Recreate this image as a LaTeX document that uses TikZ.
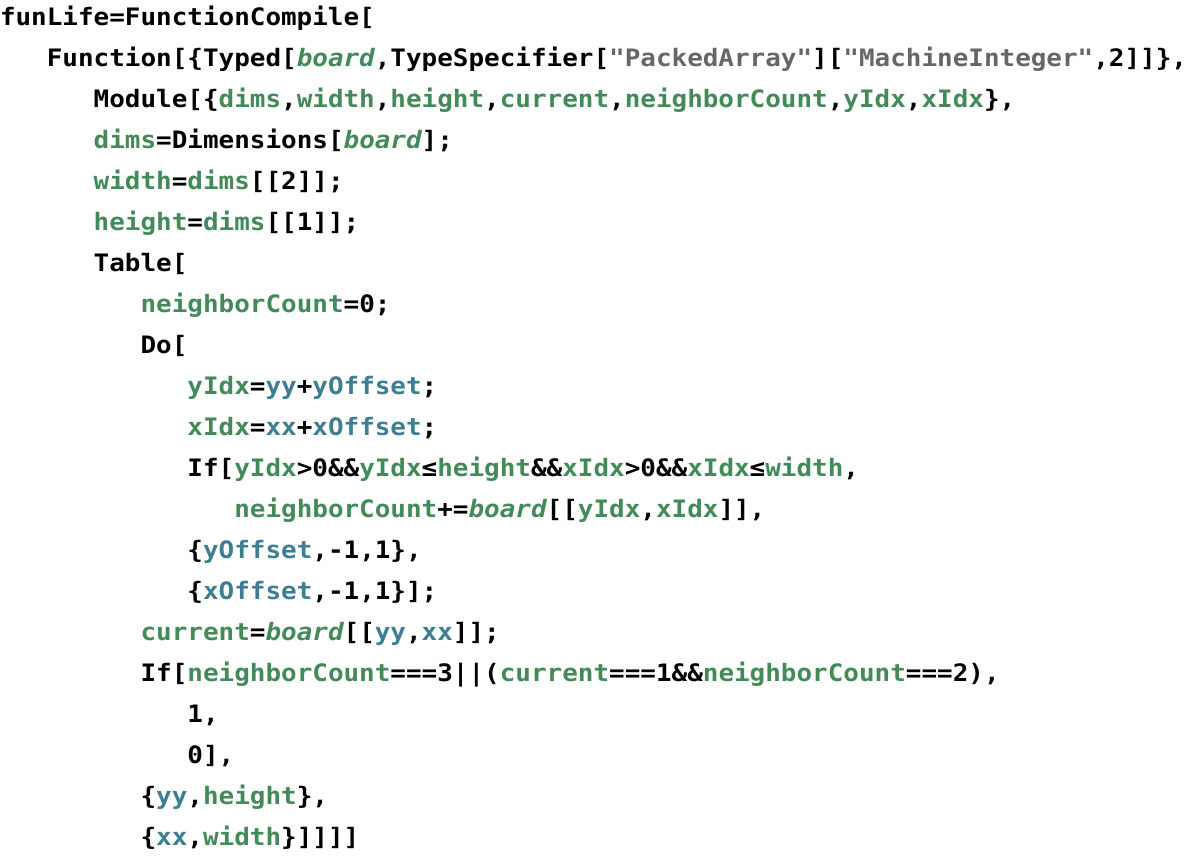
\documentclass[tikz,border=0pt]{standalone}
\usepackage{fontspec}
\setmonofont{DejaVu Sans Mono}[FakeStretch=1.081]
\definecolor{vgreen}{HTML}{438A59}
\definecolor{vteal}{HTML}{3D7E93}
\definecolor{vgray}{HTML}{666666}
\newcommand\lvar[1]{\textcolor{vgreen}{#1}}
\newcommand\ivar[1]{\textcolor{vteal}{#1}}
\newcommand\pvar[1]{\textcolor{vgreen}{\itshape #1}}
\newcommand\strg[1]{\textcolor{vgray}{#1}}
\begin{document}
\begin{tikzpicture}[x=1pt,y=1pt,
  code/.style={anchor=base west,inner sep=0pt,outer sep=0pt,
    font=\fontsize{24}{28}\selectfont\ttfamily\bfseries,text=black}]
\useasboundingbox (0,0) rectangle (1198,-856);
\def\pitch{15.62}
\def\ln#1{-26-40.95*#1}
\node[code] (l0) at (0,{\ln{0}}) {funLife=FunctionCompile[};
\node[code] (l1) at ({3*\pitch},{\ln{1}}) {Function[\{Typed[\pvar{board},TypeSpecifier[\strg{"PackedArray"}][\strg{"MachineInteger"},2]]\},};
\node[code] (l2) at ({6*\pitch},{\ln{2}}) {Module[\{\lvar{dims},\lvar{width},\lvar{height},\lvar{current},\lvar{neighborCount},\lvar{yIdx},\lvar{xIdx}\},};
\node[code] (l3) at ({6*\pitch},{\ln{3}}) {\lvar{dims}=Dimensions[\pvar{board}];};
\node[code] (l4) at ({6*\pitch},{\ln{4}}) {\lvar{width}=\lvar{dims}[[2]];};
\node[code] (l5) at ({6*\pitch},{\ln{5}}) {\lvar{height}=\lvar{dims}[[1]];};
\node[code] (l6) at ({6*\pitch},{\ln{6}}) {Table[};
\node[code] (l7) at ({9*\pitch},{\ln{7}}) {\lvar{neighborCount}=0;};
\node[code] (l8) at ({9*\pitch},{\ln{8}}) {Do[};
\node[code] (l9) at ({12*\pitch},{\ln{9}}) {\lvar{yIdx}=\ivar{yy}+\ivar{yOffset};};
\node[code] (l10) at ({12*\pitch},{\ln{10}}) {\lvar{xIdx}=\ivar{xx}+\ivar{xOffset};};
\node[code] (l11) at ({12*\pitch},{\ln{11}}) {If[\lvar{yIdx}>0\&\&\lvar{yIdx}≤\lvar{height}\&\&\lvar{xIdx}>0\&\&\lvar{xIdx}≤\lvar{width},};
\node[code] (l12) at ({15*\pitch},{\ln{12}}) {\lvar{neighborCount}+=\pvar{board}[[\lvar{yIdx},\lvar{xIdx}]],};
\node[code] (l13) at ({12*\pitch},{\ln{13}}) {\{\ivar{yOffset},-1,1\},};
\node[code] (l14) at ({12*\pitch},{\ln{14}}) {\{\ivar{xOffset},-1,1\}];};
\node[code] (l15) at ({9*\pitch},{\ln{15}}) {\lvar{current}=\pvar{board}[[\ivar{yy},\ivar{xx}]];};
\node[code] (l16) at ({9*\pitch},{\ln{16}}) {If[\lvar{neighborCount}===3||(\lvar{current}===1\&\&\lvar{neighborCount}===2),};
\node[code] (l17) at ({12*\pitch},{\ln{17}}) {1,};
\node[code] (l18) at ({12*\pitch},{\ln{18}}) {0],};
\node[code] (l19) at ({9*\pitch},{\ln{19}}) {\{\ivar{yy},\lvar{height}\},};
\node[code] (l20) at ({9*\pitch},{\ln{20}}) {\{\ivar{xx},\lvar{width}\}]]]]};
\end{tikzpicture}
\end{document}
